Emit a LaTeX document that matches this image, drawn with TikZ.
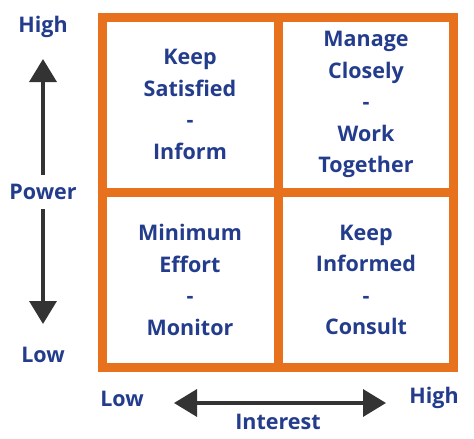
\documentclass[tikz,border=0pt]{standalone}
\usepackage{fontspec}
\setmainfont{Open Sans}
\usetikzlibrary{arrows.meta}
\definecolor{frameorange}{HTML}{E8711E}
\definecolor{textblue}{HTML}{233C8C}
\definecolor{arrowgray}{HTML}{333333}
\tikzset{
  lbl/.style={text=textblue, font=\fontsize{21.5}{31.5}\selectfont\bfseries, align=center, inner sep=0pt},
  axis/.style={draw=arrowgray, line width=3.5pt, -{Triangle[width=27pt,length=23pt]}},
  frame/.style={draw=frameorange, line width=9pt}
}
\begin{document}
\begin{tikzpicture}[x=1pt,y=-1pt]
\useasboundingbox (0,0) rectangle (474,439);
% frame
\draw[frame] (102.5,17.5) rectangle (453.5,367.5);
\draw[frame] (278,17.5) -- (278,367.5);
\draw[frame] (102.5,192.5) -- (453.5,192.5);
% quadrant texts
\node[lbl] (q1) at (190,104.5) {Keep\\Satisfied\\-\\Inform};
\node[lbl] (q2) at (366,104.5) {Manage\\Closely\\-\\Work\\Together};
\node[lbl] (q3) at (190,280) {Minimum\\Effort\\-\\Monitor};
\node[lbl] (q4) at (366,280) {Keep\\Informed\\-\\Consult};
% vertical axis
\node[lbl] (hiV) at (43,27) {High};
\node[lbl, minimum height=34pt] (pw) at (43,192) {Power};
\node[lbl] (loV) at (43,355) {Low};
\coordinate (tipUp) at (43,59);
\coordinate (tipDn) at (43,324);
\draw[axis] (pw.north) -- (tipUp);
\draw[axis] (pw.south) -- (tipDn);
% horizontal axis
\node[lbl] (loH) at (122,399) {Low};
\node[lbl] (int) at (278,422) {Interest};
\node[lbl] (hiH) at (434,398) {High};
\coordinate (tipL) at (174,403);
\coordinate (tipR) at (386,403);
\draw[axis, {Triangle[width=27pt,length=23pt]}-{Triangle[width=27pt,length=23pt]}] (tipL) -- (tipR);
\end{tikzpicture}
\end{document}
